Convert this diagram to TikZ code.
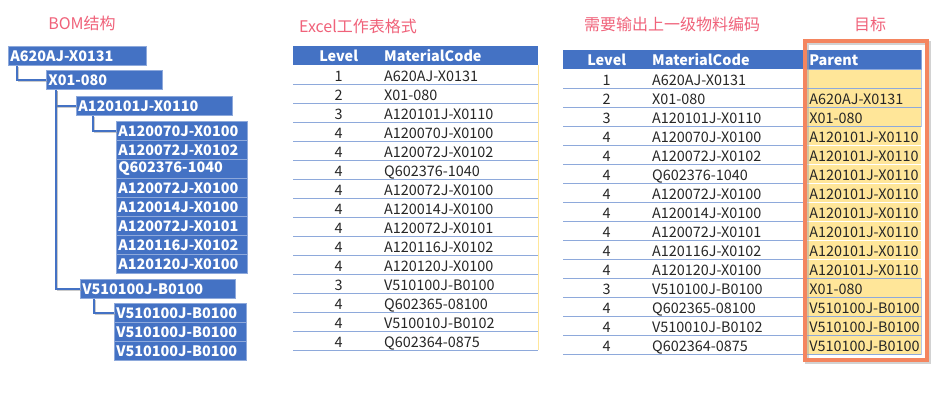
\documentclass[tikz,border=0pt]{standalone}
\usepackage{fontspec}
\setmainfont{Noto Sans CJK SC}
\usetikzlibrary{shapes}

\definecolor{bomblue}{HTML}{4472C4}
\definecolor{gridblue}{HTML}{8EA9DB}
\definecolor{titlered}{RGB}{240,98,122}
\definecolor{parentfill}{HTML}{FFE699}
\definecolor{markorange}{HTML}{F4855F}
\newcommand{\tabfont}{\fontsize{14.4}{15}\selectfont}

\tikzset{
  bom/.style={anchor=north west,draw=gridblue,line width=0.6pt,fill=bomblue,text=white,font=\tabfont\bfseries,
    inner xsep=2pt,inner ysep=0pt,minimum height=19pt,text width=#1pt,align=left},
  lvl/.style={anchor=west,minimum width=#1pt,minimum height=19pt,inner sep=0pt,text height=13.5pt,text depth=0pt,
    text=black!85,font=\tabfont},
  code/.style={anchor=west,text width=152pt,minimum height=19pt,inner xsep=2pt,inner ysep=0pt,align=left,
    text height=13.5pt,text depth=0pt,text=black!85,font=\tabfont},
  head/.style={fill=bomblue,text=white,font=\tabfont\bfseries,text height=12pt},
  parent/.style={anchor=west,text width=108.5pt,minimum height=19pt,inner xsep=3pt,inner ysep=0pt,align=left,
    text height=13.5pt,text depth=0pt,fill=parentfill,draw=#1,line width=0.6pt,text=black!85,font=\tabfont},
  rowline/.style={gridblue,line width=0.8pt},
  link/.style={bomblue,line width=2.5pt,
    preaction={draw=black!45,opacity=.45,transform canvas={shift={(1.5pt,-1.5pt)}}}},
  title/.style={text=titlered,font=\fontsize{16}{17}\selectfont}
}

\begin{document}
\begin{tikzpicture}[x=1pt,y=-1pt]
\useasboundingbox [fill=white] (0,0) rectangle (944,406);

% titles
\node (t1) at (82,23) [title] {BOM结构};
\node (t2) at (358,26) [title] {Excel工作表格式};
\node (t3) at (672,24) [title] {需要输出上一级物料编码};
\node (t4) at (870,24) [title] {目标};

% BOM tree
\node (root) at (8,46) [bom=134] {A620AJ-X0131};
\node (x01) at (46,70) [bom=112] {X01-080};
\node (a101) at (76,96) [bom=152] {A120101J-X0110};
\node (a1) at (116,121) [bom=127] {A120070J-X0100};
\node (a2) at (116,140) [bom=127] {A120072J-X0102};
\node (a3) at (116,159) [bom=127] {Q602376-1040};
\node (a4) at (116,178) [bom=127] {A120072J-X0100};
\node (a5) at (116,197) [bom=127] {A120014J-X0100};
\node (a6) at (116,216) [bom=127] {A120072J-X0101};
\node (a7) at (116,235) [bom=127] {A120116J-X0102};
\node (a8) at (116,254) [bom=127] {A120120J-X0100};
\node (v51) at (80,279) [bom=151] {V510100J-B0100};
\node (v1) at (114,303) [bom=128] {V510100J-B0100};
\node (v2) at (114,322) [bom=128] {V510100J-B0100};
\node (v3) at (114,341) [bom=128] {V510100J-B0100};
\draw [link] ([xshift=9pt]root.south west) |- (x01.west);
\draw [link] ([xshift=10pt]x01.south west) |- (a101.west);
\draw [link] ([xshift=10pt]x01.south west) |- (v51.west);
\draw [link] ([xshift=17pt]a101.south west) |- (a1.west);
\draw [link] ([xshift=14pt]v51.south west) |- (v1.west);

% Excel sheet
\node (mhl) at (293,56) [lvl=91,head] {Level};
\node (mhc) at (382,56) [code,head] {MaterialCode};
\node (ml1) at (293,74.5) [lvl=91] {1}; \node (mc1) at (382,74.5) [code] {A620AJ-X0131};
\node (ml2) at (293,93.5) [lvl=91] {2}; \node (mc2) at (382,93.5) [code] {X01-080};
\node (ml3) at (293,112.5) [lvl=91] {3}; \node (mc3) at (382,112.5) [code] {A120101J-X0110};
\node (ml4) at (293,131.5) [lvl=91] {4}; \node (mc4) at (382,131.5) [code] {A120070J-X0100};
\node (ml5) at (293,150.5) [lvl=91] {4}; \node (mc5) at (382,150.5) [code] {A120072J-X0102};
\node (ml6) at (293,169.5) [lvl=91] {4}; \node (mc6) at (382,169.5) [code] {Q602376-1040};
\node (ml7) at (293,188.5) [lvl=91] {4}; \node (mc7) at (382,188.5) [code] {A120072J-X0100};
\node (ml8) at (293,207.5) [lvl=91] {4}; \node (mc8) at (382,207.5) [code] {A120014J-X0100};
\node (ml9) at (293,226.5) [lvl=91] {4}; \node (mc9) at (382,226.5) [code] {A120072J-X0101};
\node (ml10) at (293,245.5) [lvl=91] {4}; \node (mc10) at (382,245.5) [code] {A120116J-X0102};
\node (ml11) at (293,264.5) [lvl=91] {4}; \node (mc11) at (382,264.5) [code] {A120120J-X0100};
\node (ml12) at (293,283.5) [lvl=91] {3}; \node (mc12) at (382,283.5) [code] {V510100J-B0100};
\node (ml13) at (293,302.5) [lvl=91] {4}; \node (mc13) at (382,302.5) [code] {Q602365-08100};
\node (ml14) at (293,321.5) [lvl=91] {4}; \node (mc14) at (382,321.5) [code] {V510010J-B0102};
\node (ml15) at (293,340.5) [lvl=91] {4}; \node (mc15) at (382,340.5) [code] {Q602364-0875};
\draw [rowline] (ml1.south west) -- (mc1.south east);
\draw [rowline] (ml2.south west) -- (mc2.south east);
\draw [rowline] (ml3.south west) -- (mc3.south east);
\draw [rowline] (ml4.south west) -- (mc4.south east);
\draw [rowline] (ml5.south west) -- (mc5.south east);
\draw [rowline] (ml6.south west) -- (mc6.south east);
\draw [rowline] (ml7.south west) -- (mc7.south east);
\draw [rowline] (ml8.south west) -- (mc8.south east);
\draw [rowline] (ml9.south west) -- (mc9.south east);
\draw [rowline] (ml10.south west) -- (mc10.south east);
\draw [rowline] (ml11.south west) -- (mc11.south east);
\draw [rowline] (ml12.south west) -- (mc12.south east);
\draw [rowline] (ml13.south west) -- (mc13.south east);
\draw [rowline] (ml14.south west) -- (mc14.south east);
\draw [rowline] (ml15.south west) -- (mc15.south east);
\draw [parentfill,line width=0.8pt] (mc1.north east) -- (mc15.south east);

% sheet with parent column
\node (rhl) at (563,59.5) [lvl=87,head] {Level};
\node (rhc) at (650,59.5) [code,head] {MaterialCode};
\node (rl1) at (563,78.5) [lvl=87] {1}; \node (rc1) at (650,78.5) [code] {A620AJ-X0131};
\node (rl2) at (563,97.5) [lvl=87] {2}; \node (rc2) at (650,97.5) [code] {X01-080};
\node (rl3) at (563,116.5) [lvl=87] {3}; \node (rc3) at (650,116.5) [code] {A120101J-X0110};
\node (rl4) at (563,135.5) [lvl=87] {4}; \node (rc4) at (650,135.5) [code] {A120070J-X0100};
\node (rl5) at (563,154.5) [lvl=87] {4}; \node (rc5) at (650,154.5) [code] {A120072J-X0102};
\node (rl6) at (563,173.5) [lvl=87] {4}; \node (rc6) at (650,173.5) [code] {Q602376-1040};
\node (rl7) at (563,192.5) [lvl=87] {4}; \node (rc7) at (650,192.5) [code] {A120072J-X0100};
\node (rl8) at (563,211.5) [lvl=87] {4}; \node (rc8) at (650,211.5) [code] {A120014J-X0100};
\node (rl9) at (563,230.5) [lvl=87] {4}; \node (rc9) at (650,230.5) [code] {A120072J-X0101};
\node (rl10) at (563,249.5) [lvl=87] {4}; \node (rc10) at (650,249.5) [code] {A120116J-X0102};
\node (rl11) at (563,268.5) [lvl=87] {4}; \node (rc11) at (650,268.5) [code] {A120120J-X0100};
\node (rl12) at (563,287.5) [lvl=87] {3}; \node (rc12) at (650,287.5) [code] {V510100J-B0100};
\node (rl13) at (563,306.5) [lvl=87] {4}; \node (rc13) at (650,306.5) [code] {Q602365-08100};
\node (rl14) at (563,325.5) [lvl=87] {4}; \node (rc14) at (650,325.5) [code] {V510010J-B0102};
\node (rl15) at (563,344.5) [lvl=87] {4}; \node (rc15) at (650,344.5) [code] {Q602364-0875};
\draw [rowline] (rl1.south west) -- (rc1.south east);
\draw [rowline] (rl2.south west) -- (rc2.south east);
\draw [rowline] (rl3.south west) -- (rc3.south east);
\draw [rowline] (rl4.south west) -- (rc4.south east);
\draw [rowline] (rl5.south west) -- (rc5.south east);
\draw [rowline] (rl6.south west) -- (rc6.south east);
\draw [rowline] (rl7.south west) -- (rc7.south east);
\draw [rowline] (rl8.south west) -- (rc8.south east);
\draw [rowline] (rl9.south west) -- (rc9.south east);
\draw [rowline] (rl10.south west) -- (rc10.south east);
\draw [rowline] (rl11.south west) -- (rc11.south east);
\draw [rowline] (rl12.south west) -- (rc12.south east);
\draw [rowline] (rl13.south west) -- (rc13.south east);
\draw [rowline] (rl14.south west) -- (rc14.south east);
\draw [rowline] (rl15.south west) -- (rc15.south east);

\begin{scope}
\clip (806,50) rectangle (921.5,355);
\node (rhp) at (806,59.5) [parent=bomblue,head] {Parent};
\node (p4) at (806,135.5) [parent=white] {\mbox{A120101J-X0110}};
\node (p5) at (806,154.5) [parent=white] {\mbox{A120101J-X0110}};
\node (p6) at (806,173.5) [parent=white] {\mbox{A120101J-X0110}};
\node (p7) at (806,192.5) [parent=white] {\mbox{A120101J-X0110}};
\node (p8) at (806,211.5) [parent=white] {\mbox{A120101J-X0110}};
\node (p9) at (806,230.5) [parent=white] {\mbox{A120101J-X0110}};
\node (p10) at (806,249.5) [parent=white] {\mbox{A120101J-X0110}};
\node (p11) at (806,268.5) [parent=white] {\mbox{A120101J-X0110}};
\node (p1) at (806,78.5) [parent=gridblue] {};
\node (p2) at (806,97.5) [parent=gridblue] {\mbox{A620AJ-X0131}};
\node (p3) at (806,116.5) [parent=gridblue] {\mbox{X01-080}};
\node (p12) at (806,287.5) [parent=gridblue] {\mbox{X01-080}};
\node (p13) at (806,306.5) [parent=gridblue] {\mbox{V510100J-B0100}};
\node (p14) at (806,325.5) [parent=gridblue] {\mbox{V510100J-B0100}};
\node (p15) at (806,344.5) [parent=gridblue] {\mbox{V510100J-B0100}};
\end{scope}

% target frame
\draw [black!35,opacity=.5,line width=4pt] (807,43) rectangle (929,362);
\draw [markorange,line width=3.5pt] (805,41) rectangle (927,360);
\end{tikzpicture}
\end{document}
